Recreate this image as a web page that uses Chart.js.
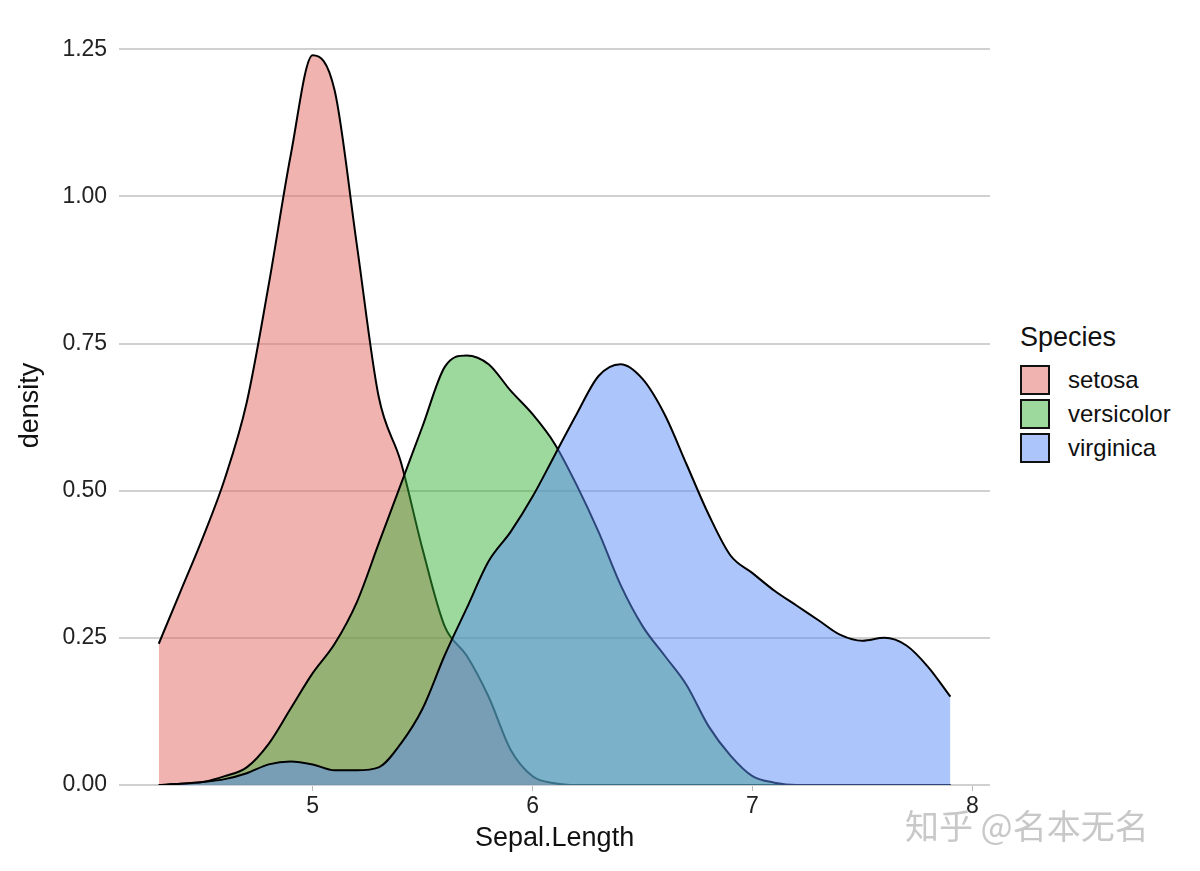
<!DOCTYPE html>
<html>
<head>
<meta charset="utf-8">
<script src="https://cdn.jsdelivr.net/npm/chart.js@4"></script>
<style>
  body { margin: 0; background: #fff; font-family: "Liberation Sans", Arial, sans-serif; }
  #wrap { position: relative; width: 1200px; height: 871px; }
  #box { position: absolute; left: 0; top: 0; width: 1000px; height: 871px; }
  #legend { position: absolute; left: 1020px; top: 322px; color: #111; }
  #legend .title { font-size: 27px; margin-bottom: 10px; }
  #legend .item { display: flex; align-items: center; height: 34px; font-size: 24px; }
  #legend .sw { width: 30px; height: 30px; border: 2px solid #111; box-sizing: border-box; margin-right: 18px; }
  #mark { position: absolute; left: 905px; top: 800px; font-size: 34px; color: #c8c8c8; font-family: "Noto Sans CJK SC", sans-serif; text-shadow: 0 0 2px #fff; }
</style>
</head>
<body>
<div id="wrap">
  <div id="box"><canvas id="density-chart"></canvas></div>
  <div id="legend"></div>
  <div id="mark">知乎 @名本无名</div>
</div>
<script>
// x grid of the density estimate
const xs = [4.3,4.4,4.5,4.6,4.7,4.8,4.9,5.0,5.1,5.2,5.3,5.4,5.5,5.6,5.7,5.8,5.9,6.0,6.1,6.2,6.3,6.4,6.5,6.6,6.7,6.8,6.9,7.0,7.1,7.2,7.3,7.4,7.5,7.6,7.7,7.8,7.9];
const setosa = [.24,.33,.42,.52,.65,.85,1.07,1.24,1.18,.92,.66,.55,.40,.27,.22,.15,.06,.015,.003,0,0,0,0,0,0,0,0,0,0,0,0,0,0,0,0,0,0];
const versicolor = [0,.002,.005,.015,.03,.07,.13,.19,.24,.31,.41,.51,.61,.71,.73,.715,.67,.63,.58,.51,.43,.34,.27,.22,.17,.10,.05,.015,.004,0,0,0,0,0,0,0,0];
const virginica = [0,.002,.005,.01,.02,.035,.04,.035,.025,.025,.03,.07,.13,.22,.30,.38,.43,.49,.56,.63,.695,.715,.69,.63,.545,.46,.39,.36,.33,.305,.28,.255,.245,.25,.237,.20,.15];
const xTicks = [5, 6, 7, 8];
const yTicks = [0, 0.25, 0.5, 0.75, 1.0, 1.25];

const species = [
    { name: 'setosa', values: setosa, fill: 'rgba(228,104,98,0.5)' },
    { name: 'versicolor', values: versicolor, fill: 'rgba(50,175,50,0.48)' },
    { name: 'virginica', values: virginica, fill: 'rgba(90,140,245,0.5)' }
];

const legend = document.getElementById('legend');
legend.innerHTML = '<div class="title">Species</div>' + species.map(s =>
    `<div class="item"><div class="sw" style="background:${s.fill}"></div>${s.name}</div>`).join('');

const tickFont = { family: '"Liberation Sans", Arial, sans-serif', size: 23 };

new Chart(document.getElementById('density-chart'), {
    type: 'line',
    data: {
        // later species drawn on top, like ggplot
        datasets: species.map((s, i) => ({
            label: s.name,
            data: xs.map((x, j) => ({ x: x, y: s.values[j] })),
            order: species.length - i,
            borderColor: '#000',
            borderWidth: 2,
            backgroundColor: s.fill,
            fill: 'origin',
            pointRadius: 0,
            cubicInterpolationMode: 'monotone'
        }))
    },
    options: {
        responsive: true,
        maintainAspectRatio: false,
        animation: false,
        layout: { padding: { top: 15, right: 10, left: 10, bottom: 12 } },
        plugins: { legend: { display: false }, tooltip: { enabled: false } },
        scales: {
            x: {
                type: 'linear',
                min: 4.12,
                max: 8.08,
                afterBuildTicks: axis => { axis.ticks = xTicks.map(v => ({ value: v })); },
                ticks: { color: '#222', font: tickFont, padding: 2 },
                grid: { display: true, drawOnChartArea: false, drawTicks: true, tickLength: 6, color: '#bbb' },
                border: { display: false },
                title: { display: true, text: 'Sepal.Length', color: '#111', font: { size: 27 }, padding: { top: 0 } }
            },
            y: {
                min: 0,
                max: 1.29,
                afterBuildTicks: axis => { axis.ticks = yTicks.map(v => ({ value: v })); },
                ticks: { color: '#222', font: tickFont, callback: v => v.toFixed(2), padding: 12 },
                grid: { color: '#d0d0d0', lineWidth: 2, drawTicks: false },
                border: { display: false },
                title: { display: true, text: 'density', color: '#111', font: { size: 27 } }
            }
        }
    }
});
</script>
</body>
</html>
